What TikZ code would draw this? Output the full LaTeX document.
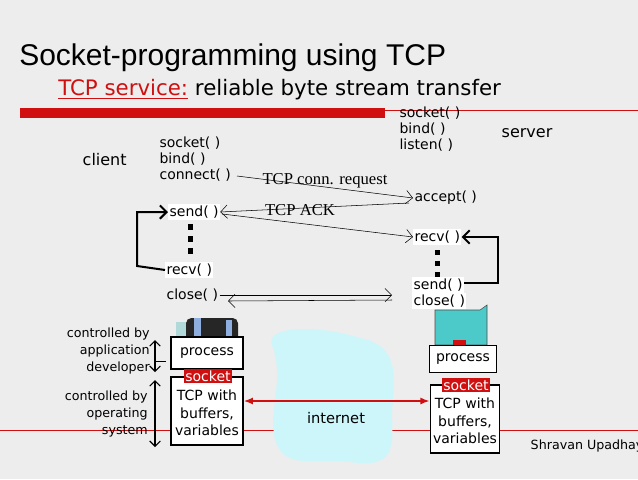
\documentclass[tikz,border=0pt]{standalone}
\usepackage{fontspec}
\setmainfont{DejaVu Sans}
\newfontfamily\titlef{Liberation Sans}
\newfontfamily\serifx{Liberation Serif}
\usetikzlibrary{arrows.meta}
\definecolor{tred}{HTML}{D01010}
\definecolor{bg}{HTML}{EDEDED}
\definecolor{cloud}{HTML}{CCF6FA}
\begin{document}
\begin{tikzpicture}[x=0.75pt,y=-0.75pt,
  txt/.style={font=\fontsize{10.5}{12}\selectfont,inner sep=1pt},
  wb/.style={txt,fill=white},
  lbl/.style={font=\fontsize{9.5}{12.5}\selectfont,align=right,inner sep=0pt},
  arr/.style={-{Straight Barb[length=5pt]},thin},
  box/.style={draw,thick,fill=white,font=\fontsize{10.5}{13}\selectfont,align=center,inner sep=1pt},
  sock/.style={fill=tred,text=white,font=\fontsize{10.5}{12}\selectfont,inner sep=1pt}]
\fill[bg] (0,0) rectangle (638,479);
\useasboundingbox (0,0) rectangle (638,479);
% title
\node[anchor=west,font=\titlef\fontsize{22.5}{24}\selectfont,inner sep=0] (title) at (19,58) {Socket-programming using TCP};
\node[anchor=west,font=\fontsize{16}{18}\selectfont,inner sep=0] (sub) at (58,90) {\textcolor{tred}{\underline{TCP service:}} reliable byte stream transfer};
\fill[tred] (20,108) rectangle (385,118);
\draw[tred] (385,110) -- (638,110);
\draw[tred] (0,430) -- (638,430);
% labels
\node[anchor=west,font=\fontsize{12}{14}\selectfont] (client) at (78,160) {client};
\node[anchor=north west,txt,align=left] (cl) at (158,135) {socket( )\\bind( )\\connect( )};
\node[anchor=north west,txt,align=left] (sl) at (398,105) {socket( )\\bind( )\\listen( )};
\node[anchor=west,font=\fontsize{12}{14}\selectfont] (server) at (497,133) {server};
\coordinate (conn) at (237,176);
\node[txt,anchor=west] (accept) at (413,198) {accept( )};
\node[wb,anchor=west] (send) at (168,212) {send( )};
\node[wb,anchor=west] (recvS) at (413,237) {recv( )};
\node[wb,anchor=west] (recvC) at (165,270) {recv( )};
\node[txt,anchor=west] (closeC) at (165,295) {close( )};
\node[wb,anchor=west] (sendS) at (412,285) {send( )};
\node[wb,anchor=west] (closeS) at (412,301) {close( )};
\node[font=\serifx\fontsize{12.5}{13}\selectfont,inner sep=0] (req) at (325,181) {TCP conn. request};
\node[font=\serifx\fontsize{12.5}{13}\selectfont,inner sep=0] (ack) at (300,210) {TCP ACK};
\draw[arr] (conn) -- (accept.west);
\draw[arr] (accept.west) ++(-4,5) -- (send.east);
\draw[arr] (send.east) ++(2,2) -- (recvS.west);
\draw[arr] (closeC.east) -- (392,295);
\draw[arr] (392,300) -- (228,301);
\draw[line width=1.5pt,-{Straight Barb[length=5pt]}] (recvC.west) -- (137,266) -- (137,212) -- (send.west);
\draw[line width=1.5pt,-{Straight Barb[length=5pt]}] (sendS.east) ++(0,-2) -- (498,283) -- (498,237) -- (recvS.east);
\foreach \y in {224,236,248} \fill (188,\y) rectangle (193,\y+6);
\foreach \y in {250,261,272} \fill (435,\y) rectangle (440,\y+5);
% cloud
\fill[cloud] (272,345) .. controls (265,325) and (320,325) .. (360,338) .. controls (400,345) and (395,380) .. (392,410) .. controls (392,440) and (400,470) .. (350,462) .. controls (310,458) and (285,470) .. (275,440) .. controls (268,410) and (285,380) .. (272,345) -- cycle;
\node[font=\fontsize{11}{13}\selectfont] (inet) at (336,418) {internet};
% client host
\fill[teal!30] (176,322) rectangle (188,345);
\fill[black!85,rounded corners=4pt] (186,318) rectangle (238,345);
\fill[cyan!50!blue!45] (194,318) rectangle (201,345);
\fill[cyan!50!blue!45] (226,320) rectangle (232,345);
\node[box,minimum width=54pt,minimum height=24pt] (procC) at (207,353) {process};
\node[box,minimum width=54pt,minimum height=51pt] (tcpC) at (207,411) {\\[-2pt]TCP with\\buffers,\\variables};
\node[sock] (sockC) at (208,376) {socket};
% server host
\draw[black!70,fill=teal!60!cyan!70] (435,310) -- (480,310) -- (487,305) -- (487,345) -- (435,345) -- cycle;
\fill[tred] (453,340) rectangle (466,346);
\node[box,minimum width=50pt,minimum height=20pt] (procS) at (463,359) {process};
\node[box,minimum width=52pt,minimum height=51pt] (tcpS) at (465,419) {\\[-2pt]TCP with\\buffers,\\variables};
\node[sock] (sockS) at (466,385) {socket};
\draw[tred,line width=1.5pt,{Latex[length=7pt]}-{Latex[length=7pt]}] (tcpC.east |- 0,401) -- (tcpS.west |- 0,401);
% side labels
\node[lbl,anchor=east] (appl) at (150,351) {controlled by\\application\\developer};
\node[lbl,anchor=east] (osl) at (148,414) {controlled by\\operating\\system};
\draw[thick,{Straight Barb[length=4pt]}-{Straight Barb[length=4pt]}] (155,340) -- (155,372);
\draw (155,361) -- (166,361);
\draw[thick,{Straight Barb[length=4pt]}-{Straight Barb[length=4pt]}] (155,380) -- (155,447);
\node[anchor=west,font=\fontsize{9.5}{11}\selectfont] (auth) at (526,446) {Shravan Upadhay};
\end{tikzpicture}
\end{document}
